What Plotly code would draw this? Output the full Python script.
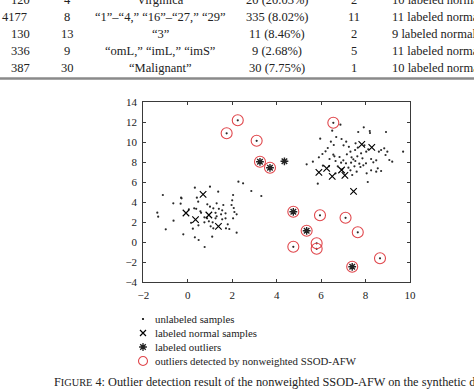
import plotly.graph_objects as go

W, H = 474, 390
SERIF = "Liberation Serif, Times New Roman, serif"

# ---------------- data ----------------
# unlabeled samples: left cluster
unl_left_x = [-1.12, -1.37, -1.33, -0.99, -0.65, -0.64, -0.28, -0.32, -0.20, 0.32, 0.41, 0.47, 0.29, 0.38,
              0.57, 0.23, 0.32, 0.49, 0.76, 0.48, 1.00, 0.88, 1.00, 1.15, 0.87, 0.75, 0.95, 1.12, 1.03,
              1.15, 1.10, 1.30, 1.40, 1.55, 1.50, 1.60, 1.70, 1.70, 1.55, 1.72, 1.80, 1.87, 1.97, 2.04,
              2.00, 2.07, 2.10, 2.04, 2.20, 2.20, 1.37, 2.86, 3.31, 1.30, 1.25, 0.75, -0.30, 2.28, 2.49,
              0.05, 0.60, 1.25, 0.15]
unl_left_y = [4.73, 2.96, 2.56, 1.30, 3.90, 2.16, 4.40, 3.86, 0.80, 5.46, 4.46, 4.06, 3.40, 3.35,
              3.10, 1.36, 0.50, 0.23, -0.47, 1.70, 5.56, 3.80, 3.56, 3.40, 2.40, 2.50, 2.10, 2.00, 1.60,
              1.40, 0.56, 3.90, 3.35, 3.20, 2.80, 3.73, 2.90, 2.40, 2.30, 1.40, 1.80, 1.33, 3.73, 4.73,
              4.20, 3.43, 3.03, 2.40, 2.80, 0.96, 5.06, 5.13, 4.63, 2.60, 2.40, 2.00, 4.46, 6.06, 5.90,
              3.30, 2.95, 2.95, 1.95]
# unlabeled samples: right cluster
unl_right_x = [6.87, 7.92, 8.19, 8.20, 7.67, 8.92, 6.50, 6.68, 5.96, 6.92, 6.44, 7.13, 6.57, 7.01, 6.30,
               7.55, 7.53, 7.65, 7.95, 8.03, 8.12, 7.32, 8.70, 8.84, 8.98, 8.60, 8.90, 9.69, 6.06, 6.55,
               6.83, 7.16, 7.37, 7.63, 7.86, 8.25, 8.48, 9.07, 9.20, 5.63, 5.90, 6.38, 6.65, 6.90, 7.12,
               7.35, 7.54, 7.72, 8.02, 6.08, 6.35, 6.75, 7.23, 7.50, 7.77, 5.35, 7.32, 7.60, 8.05, 8.25,
               8.48, 8.70, 6.65, 7.40, 8.10, 5.85, 7.00, 7.80, 6.20, 8.35, 7.45, 6.95, 7.90, 6.60,
               7.25, 8.55]
unl_right_y = [11.76, 11.50, 11.13, 10.93, 11.03, 11.03, 11.16, 10.53, 10.36, 10.33, 10.06, 10.06, 9.73,
               9.70, 9.43, 9.90, 9.23, 9.46, 9.70, 9.06, 9.30, 9.06, 9.23, 9.40, 9.06, 9.06, 8.73, 9.06,
               8.83, 8.76, 8.53, 8.80, 8.50, 8.60, 8.40, 8.33, 8.20, 8.23, 8.06, 8.06, 8.50, 8.33, 8.13,
               7.96, 7.90, 7.96, 8.13, 7.86, 7.90, 7.66, 7.60, 7.60, 7.46, 7.60, 7.53, 7.80, 7.20, 7.06,
               6.90, 7.20, 7.06, 7.13, 6.90, 6.73, 6.03, 5.86, 8.20, 8.90, 9.10, 8.00, 8.30, 7.30,
               7.70, 8.60, 9.55, 7.40]
# unlabeled samples detected as outliers
unl_out_x = [1.75, 2.25, 3.10, 6.55, 5.95, 7.10, 7.65, 4.75, 5.80, 5.80, 8.65]
unl_out_y = [10.90, 12.20, 10.15, 11.95, 2.70, 2.45, 1.00, -0.45, -0.10, -0.65, -1.60]

# labeled normal samples
norm_x = [0.69, -0.08, 0.35, 0.95, 1.38, 5.90, 6.25, 6.50, 6.92, 7.07, 7.83, 8.28, 7.46]
norm_y = [4.80, 2.93, 2.26, 2.73, 1.60, 7.00, 7.40, 6.60, 7.23, 6.70, 9.80, 9.50, 5.10]

# labeled outliers
lout_x = [3.25, 3.70, 4.75, 5.35, 7.40, 4.35]
lout_y = [8.05, 7.45, 3.05, 1.15, -2.45, 8.10]
# labeled outliers detected (circled)
lout_det_x = [3.25, 3.70, 4.75, 5.35, 7.40]
lout_det_y = [8.05, 7.45, 3.05, 1.15, -2.45]

x_ticks = [-2, 0, 2, 4, 6, 8, 10]
y_ticks = [-4, -2, 0, 2, 4, 6, 8, 10, 12, 14]

legend_labels = ["unlabeled samples", "labeled normal samples", "labeled outliers",
                 "outliers detected by nonweighted SSOD-AFW"]

table_rows = [
    ["120", "4", "Virginica", "20 (20.03%)", "2", "10 labeled normal"],
    ["4177", "8", "\u201c1\u201d\u2013\u201c4,\u201d \u201c16\u201d\u2013\u201c27,\u201d \u201c29\u201d", "335 (8.02%)", "11", "11 labeled normal"],
    ["130", "13", "\u201c3\u201d", "11 (8.46%)", "2", "9 labeled normal"],
    ["336", "9", "\u201comL,\u201d \u201cimL,\u201d \u201cimS\u201d", "9 (2.68%)", "5", "11 labeled normal"],
    ["387", "30", "\u201cMalignant\u201d", "30 (7.75%)", "1", "10 labeled normal"],
]

caption = ("F<span style='font-size:10.3px'>IGURE</span> 4: Outlier detection result of the "
           "nonweighted SSOD-AFW on the synthetic data set")

# ---------------- layout geometry (pixels) ----------------
AX_L, AX_R, AX_T, AX_B = 143.3, 410.0, 102.3, 282.3
RED = "#e0474c"
AXC = "#3a3a3a"
TXT = "#222222"

fig = go.Figure()

unl_x = unl_left_x + unl_right_x + unl_out_x
unl_y = unl_left_y + unl_right_y + unl_out_y

fig.add_trace(go.Scatter(x=unl_x, y=unl_y, mode="markers",
                         marker=dict(size=2.2, color="#2a2a2a"), showlegend=False))
fig.add_trace(go.Scatter(x=norm_x, y=norm_y, mode="markers",
                         marker=dict(symbol="x-thin-open", size=6.5, color="black",
                                     line=dict(width=1.15, color="black")), showlegend=False))
fig.add_trace(go.Scatter(x=lout_x, y=lout_y, mode="markers",
                         marker=dict(symbol="asterisk-open", size=6.5, color="#222",
                                     line=dict(width=1.4, color="#222")), showlegend=False))
fig.add_trace(go.Scatter(x=lout_det_x + unl_out_x, y=lout_det_y + unl_out_y, mode="markers",
                         marker=dict(symbol="circle-open", size=11, color=RED,
                                     line=dict(width=1.1, color=RED)), showlegend=False))

# ---- full-figure pixel axis for legend symbols ----
leg_y = [319, 333, 347, 361]
LEG_SX = 143
leg_styles = [
    dict(size=2.2, color="black"),
    dict(symbol="x-thin-open", size=6, color="black", line=dict(width=1.2, color="black")),
    dict(symbol="asterisk-open", size=6.5, color="#222", line=dict(width=1.3, color="#222")),
    dict(symbol="circle-open", size=9, color=RED, line=dict(width=1.1, color=RED)),
]
for yy, st in zip(leg_y, leg_styles):
    fig.add_trace(go.Scatter(x=[LEG_SX], y=[yy], mode="markers", xaxis="x2", yaxis="y2",
                             marker=st, showlegend=False, cliponaxis=False))

ann = []
for lbl, yy in zip(legend_labels, leg_y):
    ann.append(dict(x=153, y=yy, xref="x2", yref="y2", text=lbl, showarrow=False,
                    xanchor="left", yanchor="middle", font=dict(family=SERIF, size=10.8, color=TXT)))

# table
col_x = [20, 67, 160, 277, 354, 390]
col_anchor = ["center", "center", "center", "center", "center", "left"]
row_y = [0, 17, 34, 51, 68]
for r, yy in zip(table_rows, row_y):
    for txt, cx, an in zip(r, col_x, col_anchor):
        x = cx
        if txt == "4177":
            x, an = 0, "left"
        ann.append(dict(x=x, y=yy, xref="x2", yref="y2", text=txt, showarrow=False,
                        xanchor=an, yanchor="middle", font=dict(family=SERIF, size=12.5, color=TXT)))

ann.append(dict(x=52, y=382, xref="x2", yref="y2", text=caption, showarrow=False,
                xanchor="left", yanchor="middle", font=dict(family=SERIF, size=12.3, color=TXT)))

shapes = [dict(type="line", xref="x2", yref="y2", x0=0, x1=W, y0=78.5, y1=78.5,
               line=dict(color="#8a8a8a", width=2.5))]

axis_common = dict(showgrid=False, zeroline=False, showline=True, linecolor=AXC, linewidth=1,
                   mirror="allticks", ticks="inside", ticklen=3, tickcolor=AXC, tickwidth=1,
                   automargin=False, tickfont=dict(family=SERIF, size=11, color=TXT))

fig.update_layout(
    width=W, height=H, margin=dict(l=0, r=0, t=0, b=0, pad=0, autoexpand=False),
    paper_bgcolor="white", plot_bgcolor="rgba(0,0,0,0)",
    xaxis=dict(domain=[AX_L / W, AX_R / W], range=[x_ticks[0], x_ticks[-1]], tickvals=x_ticks,
               ticklabelstandoff=2, anchor="y", **axis_common),
    yaxis=dict(domain=[(H - AX_B) / H, (H - AX_T) / H], range=[y_ticks[0], y_ticks[-1]],
               tickvals=y_ticks, ticklabelstandoff=3, anchor="x", **axis_common),
    xaxis2=dict(domain=[0, 1], range=[0, W], visible=False, fixedrange=True, anchor="y2",
                automargin=False),
    yaxis2=dict(domain=[0, 1], range=[H, 0], visible=False, fixedrange=True, anchor="x2",
                automargin=False),
    annotations=ann, shapes=shapes, showlegend=False,
)

fig.write_html("out.html", config={"displayModeBar": False},
               post_script="document.body.style.margin='0px';document.body.style.overflow='hidden';")
